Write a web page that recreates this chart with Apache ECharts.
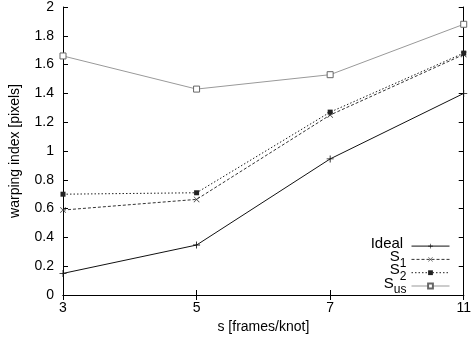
<!DOCTYPE html>
<html><head><meta charset="utf-8">
<script src="https://cdn.jsdelivr.net/npm/echarts@6/dist/echarts.min.js"></script>
<style>html,body{margin:0;padding:0;background:#fff}#c{width:474px;height:339px}</style>
</head><body><div id="c"></div>
<script>
const categories = ['3', '5', '7', '11'];
const ideal = [0.15, 0.347, 0.945, 1.40];
const s1 = [0.59, 0.664, 1.25, 1.67];
const s2 = [0.70, 0.71, 1.27, 1.68];
const sus = [1.66, 1.43, 1.53, 1.88];
const yTicks = [0, 0.2, 0.4, 0.6, 0.8, 1, 1.2, 1.4, 1.6, 1.8, 2];

const F = 'Liberation Sans, Arial, sans-serif';
const plusPath = 'path://M-0.12,-1L0.12,-1L0.12,1L-0.12,1Z M-1,-0.12L1,-0.12L1,0.12L-1,0.12Z';
const xPath = 'path://M-1,-0.85L-0.85,-1L1,0.85L0.85,1Z M0.85,-1L1,-0.85L-0.85,1L-1,0.85Z';
const starPath = 'path://M-1,-1L1,-1L1,1L-1,1Z';

const chart = echarts.init(document.getElementById('c'), null, {renderer: 'canvas'});
const baseAxisLine = {show: true, lineStyle: {color: '#000', width: 1}};
chart.setOption({
  animation: false,
  grid: {left: 53, right: 7, top: 6, bottom: 41},
  legend: {
    orient: 'vertical', right: 24, bottom: 43, align: 'right',
    itemWidth: 38, itemHeight: 6, itemGap: -6.7, padding: 0,
    data: ['Ideal', 'S1', 'S2', 'Sus'],
    lineStyle: {width: 1},
    formatter: function (n) {
      if (n === 'Ideal') return '{m|Ideal}{s| }';
      return '{m|S}{s|' + n.slice(1) + '}';
    },
    textStyle: {
      fontFamily: F, color: '#000',
      rich: {m: {fontSize: 15, lineHeight: 19, fontFamily: F, color: '#000', verticalAlign: 'top'},
             s: {fontSize: 12, lineHeight: 20, fontFamily: F, color: '#000', verticalAlign: 'bottom'}}
    }
  },
  xAxis: [{
    type: 'category', data: categories, boundaryGap: false, position: 'bottom',
    axisLine: baseAxisLine,
    axisTick: {show: true, inside: true, length: 5, lineStyle: {color: '#000'}},
    axisLabel: {fontFamily: F, fontSize: 14, color: '#000', margin: 6},
    splitLine: {show: false},
    name: 's [frames/knot]', nameLocation: 'middle', nameGap: 25,
    nameTextStyle: {fontFamily: F, fontSize: 14, color: '#000'}
  }, {
    type: 'category', data: categories, boundaryGap: false, position: 'top',
    axisLine: baseAxisLine,
    axisTick: {show: true, inside: true, length: 5, lineStyle: {color: '#000'}},
    axisLabel: {show: false}, splitLine: {show: false}
  }],
  yAxis: [{
    type: 'value', min: 0, max: 2, interval: 0.2, position: 'left',
    axisLine: baseAxisLine,
    axisTick: {show: true, inside: true, length: 5, lineStyle: {color: '#000'}},
    axisLabel: {fontFamily: F, fontSize: 14, color: '#000', margin: 9,
      formatter: v => { const t = yTicks.find(x => Math.abs(x - v) < 1e-6); return t === undefined ? '' : String(t); }},
    splitLine: {show: false},
    name: 'warping index [pixels]', nameLocation: 'middle', nameGap: 41, nameRotate: 90,
    nameTextStyle: {fontFamily: F, fontSize: 14, color: '#000'}
  }, {
    type: 'value', min: 0, max: 2, interval: 0.2, position: 'right',
    axisLine: baseAxisLine,
    axisTick: {show: true, inside: true, length: 5, lineStyle: {color: '#000'}},
    axisLabel: {show: false}, splitLine: {show: false}
  }],
  series: [
    {name: 'Ideal', type: 'line', data: ideal, symbol: plusPath, symbolSize: 7, symbolKeepAspect: true,
     lineStyle: {color: '#111', width: 1}, itemStyle: {color: '#111'}},
    {name: 'S1', type: 'line', data: s1, symbol: xPath, symbolSize: 6,
     lineStyle: {color: '#333', width: 1, type: [3, 2]}, itemStyle: {color: '#333'}},
    {name: 'S2', type: 'line', data: s2, symbol: starPath, symbolSize: 5,
     lineStyle: {color: '#222', width: 1, type: [1.5, 2]}, itemStyle: {color: '#222'}},
    {name: 'Sus', type: 'line', data: sus, symbol: 'rect', symbolSize: 6,
     lineStyle: {color: '#999', width: 1}, itemStyle: {color: '#fff', borderColor: '#666', borderWidth: 1}}
  ]
});
</script></body></html>
